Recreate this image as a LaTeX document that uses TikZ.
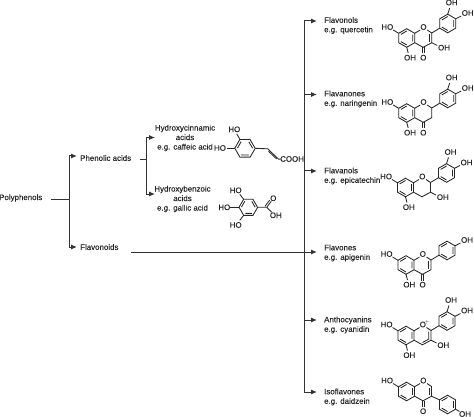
\documentclass[tikz,border=0pt]{standalone}
\usepackage{fontspec}
\usetikzlibrary{arrows.meta}
\newfontfamily\lf[FakeBold=0.15]{Liberation Sans}
\begin{document}
\begin{tikzpicture}[x=1pt,y=-1pt,
  lbl/.style={font=\lf\fontsize{7.9}{9.5}\selectfont,text=black!85,inner sep=0pt,align=left},
  clbl/.style={font=\lf\fontsize{7.9}{9.5}\selectfont,text=black!85,inner sep=0pt,align=center},
  atom/.style={font=\lf\fontsize{7.9}{8}\selectfont,text=black!85,inner sep=0pt},
  conn/.style={line width=1pt,black!80},
  arr/.style={conn,-{Latex[length=6pt,width=5pt]}},
  bond/.style={line width=0.85pt,black!85,line join=miter}]
\useasboundingbox (0,0) rectangle (474,417);
% text labels
\node[lbl,anchor=west] (poly) at (-1,198) {Polyphenols};
\node[lbl,anchor=west] (phen) at (80,158) {Phenolic acids};
\node[lbl,anchor=west] (flav) at (80,247) {Flavonoids};
\node[clbl] (hc) at (185,138) {Hydroxycinnamic\\acids\\e.g. caffeic acid};
\node[clbl] (hb) at (182.5,199) {Hydroxybenzoic\\acids\\e.g. gallic acid};
\node[lbl,anchor=west] (f1) at (324,25.5) {Flavonols\\e.g. quercetin};
\node[lbl,anchor=west] (f2) at (324,99) {Flavanones\\e.g. naringenin};
\node[lbl,anchor=west] (f3) at (324,176) {Flavanols\\e.g. epicatechin};
\node[lbl,anchor=west] (f4) at (324,253) {Flavones\\e.g. apigenin};
\node[lbl,anchor=west] (f5) at (324,325) {Anthocyanins\\e.g. cyanidin};
\node[lbl,anchor=west] (f6) at (324,397) {Isoflavones\\e.g. daidzein};
% connectors
\coordinate (p0) at (50.5,199);
\coordinate (p1) at (69,199);
\coordinate (pa) at (69,156);
\coordinate (pb) at (69,247);
\coordinate (pat) at (77,156);
\coordinate (pbt) at (77,247);
\coordinate (s0) at (139.5,160);
\coordinate (s1) at (146,160);
\coordinate (sa) at (146,137.5);
\coordinate (sb) at (146,194);
\coordinate (sat) at (155,137.5);
\coordinate (sbt) at (155,194);
\coordinate (t0) at (130.5,252);
\coordinate (v1) at (304,21);
\coordinate (v2) at (304,94.5);
\coordinate (v3) at (304,171);
\coordinate (v5) at (304,320);
\coordinate (v6) at (304,392);
\coordinate (e1) at (317,21);
\coordinate (e2) at (317,94.5);
\coordinate (e3) at (317,171);
\coordinate (e4) at (317,252);
\coordinate (e5) at (317,320);
\coordinate (e6) at (317,392);
\draw[conn] (p0) -- (p1);
\draw[conn] (pa) -- (pb);
\draw[arr] (pa) -- (pat);
\draw[arr] (pb) -- (pbt);
\draw[conn] (s0) -- (s1);
\draw[conn] (sa) -- (sb);
\draw[arr] (sa) -- (sat);
\draw[arr] (sb) -- (sbt);
\draw[conn] (v1) -- (v6);
\draw[arr] (t0) -- (e4);
\draw[arr] (v1) -- (e1);
\draw[arr] (v2) -- (e2);
\draw[arr] (v3) -- (e3);
\draw[arr] (v5) -- (e5);
\draw[arr] (v6) -- (e6);
% molecule parts
\newcommand{\hexring}{%
  \draw[bond] (-8,-4.7) -- (0,-9.3) -- (8,-4.7) -- (8,4.7) -- (0,9.3) -- (-8,4.7) -- cycle;
  \draw[bond] (-5.8,-3.6) -- (0,-7) (6,-3.4) -- (6,3.4) (-5.8,3.6) -- (0,7);
}
\newcommand{\ringAnoOH}{%
  \hexring
  \draw[bond] (-8,-4.7) -- (-13.5,-8);
  \node[atom] at (-19.4,-11) {HO};
}
\newcommand{\ringA}{%
  \ringAnoOH
  \draw[bond] (0,9.3) -- (1.5,15);
  \node[atom] at (3.3,19.7) {OH};
}
\newcommand{\ringCopen}{%
  \draw[bond] (8,-4.7) -- (13.5,-8);
  \node[atom] at (16.8,-11) {O};
  \draw[bond] (20.5,-8) -- (25,-5) -- (25,4.7) -- (16.5,9.3) -- (8,4.7);
}
\newcommand{\ringB}{%
  \begin{scope}[shift={(41,-14.5)}]
  \hexring
  \end{scope}
  \draw[bond] (25,-5) -- (33,-9.8);
}
\newcommand{\catechol}{%
  \ringB
  \draw[bond] (41,-23.8) -- (43,-30);
  \draw[bond] (49,-19.2) -- (54.5,-22);
  \node[atom] at (45,-35.5) {OH};
  \node[atom] at (61,-25) {OH};
}
\newcommand{\ketone}{%
  \draw[bond] (15.5,9.3) -- (15.5,15.5) (17.5,9.3) -- (17.5,15.5);
  \node[atom] at (16.6,19.7) {O};
}
% quercetin
\begin{scope}[shift={(406.7,38)}]
  \ringA\ringCopen\catechol\ketone
  \draw[bond] (25,4.7) -- (30.5,7.5);
  \draw[bond] (22.8,-3.8) -- (22.8,3.6);
  \node[atom] at (37.3,9.7) {OH};
\end{scope}
% naringenin
\begin{scope}[shift={(406.7,113)}]
  \ringA\ringCopen\catechol\ketone
\end{scope}
% epicatechin
\begin{scope}[shift={(405.5,187.5)}]
  \ringA\ringCopen\catechol
  \draw[bond] (25,4.7) -- (30.5,7.5);
  \node[atom] at (37.3,9.7) {OH};
\end{scope}
% apigenin
\begin{scope}[shift={(406,265)}]
  \ringA\ringCopen\ringB\ketone
  \draw[bond] (22.8,-3.8) -- (22.8,3.6);
  \draw[bond] (49,-19.2) -- (54.5,-22);
  \node[atom] at (61,-25) {OH};
\end{scope}
% cyanidin
\begin{scope}[shift={(406,335.5)}]
  \ringA\ringCopen\catechol
  \draw[bond] (25,4.7) -- (30.5,7.5);
  \draw[bond] (22.8,-3.8) -- (22.8,3.6) (16.5,7) -- (22.5,3.8);
  \node[atom] at (37.3,9.7) {OH};
  \node[atom,font=\fontsize{5}{5}\selectfont] at (21,-13) {+};
\end{scope}
% daidzein
\begin{scope}[shift={(406.5,391.5)}]
  \ringAnoOH\ringCopen\ketone
  \draw[bond] (22.8,-3.8) -- (22.8,3.6);
  \draw[bond] (25,4.7) -- (33,8.3);
  \begin{scope}[shift={(41,13)}]
  \hexring
  \end{scope}
  \draw[bond] (49,17.7) -- (53,20);
  \node[atom] at (58.5,22.5) {OH};
\end{scope}
% caffeic acid
\begin{scope}[shift={(245,148.3)}]
  \begin{scope}[rotate=30,scale=1.1]
  \hexring
  \end{scope}
  \draw[bond] (-10.2,0) -- (-18,0);
  \draw[bond] (-5.1,-8.9) -- (-8.3,-14.5);
  \node[atom] at (-25,-0.3) {HO};
  \node[atom] at (-10.7,-19) {HO};
  \draw[bond] (10.2,0) -- (22.7,0.5) -- (33.5,10.8) -- (35.5,10.8);
  \draw[bond] (23.5,3) -- (31.5,10.5);
  \node[atom,anchor=west] at (35,10.7) {COOH};
\end{scope}
% gallic acid
\begin{scope}[shift={(248.3,207.3)}]
  \begin{scope}[rotate=30]
  \hexring
  \end{scope}
  \draw[bond] (-4.65,-8) -- (-8.5,-13);
  \draw[bond] (-9.3,0) -- (-18,0);
  \draw[bond] (-4.65,8) -- (-8.5,13);
  \node[atom] at (-12.6,-17) {HO};
  \node[atom] at (-24,0) {HO};
  \node[atom] at (-12.6,17.7) {HO};
  \draw[bond] (9.3,0) -- (18.5,0) (18.5,0) -- (23,-6) (16.8,-1.2) -- (21.3,-7);
  \draw[bond] (18.5,0) -- (23.5,5);
  \node[atom] at (25,-9) {O};
  \node[atom] at (27.5,8) {OH};
\end{scope}
\end{tikzpicture}
\end{document}
